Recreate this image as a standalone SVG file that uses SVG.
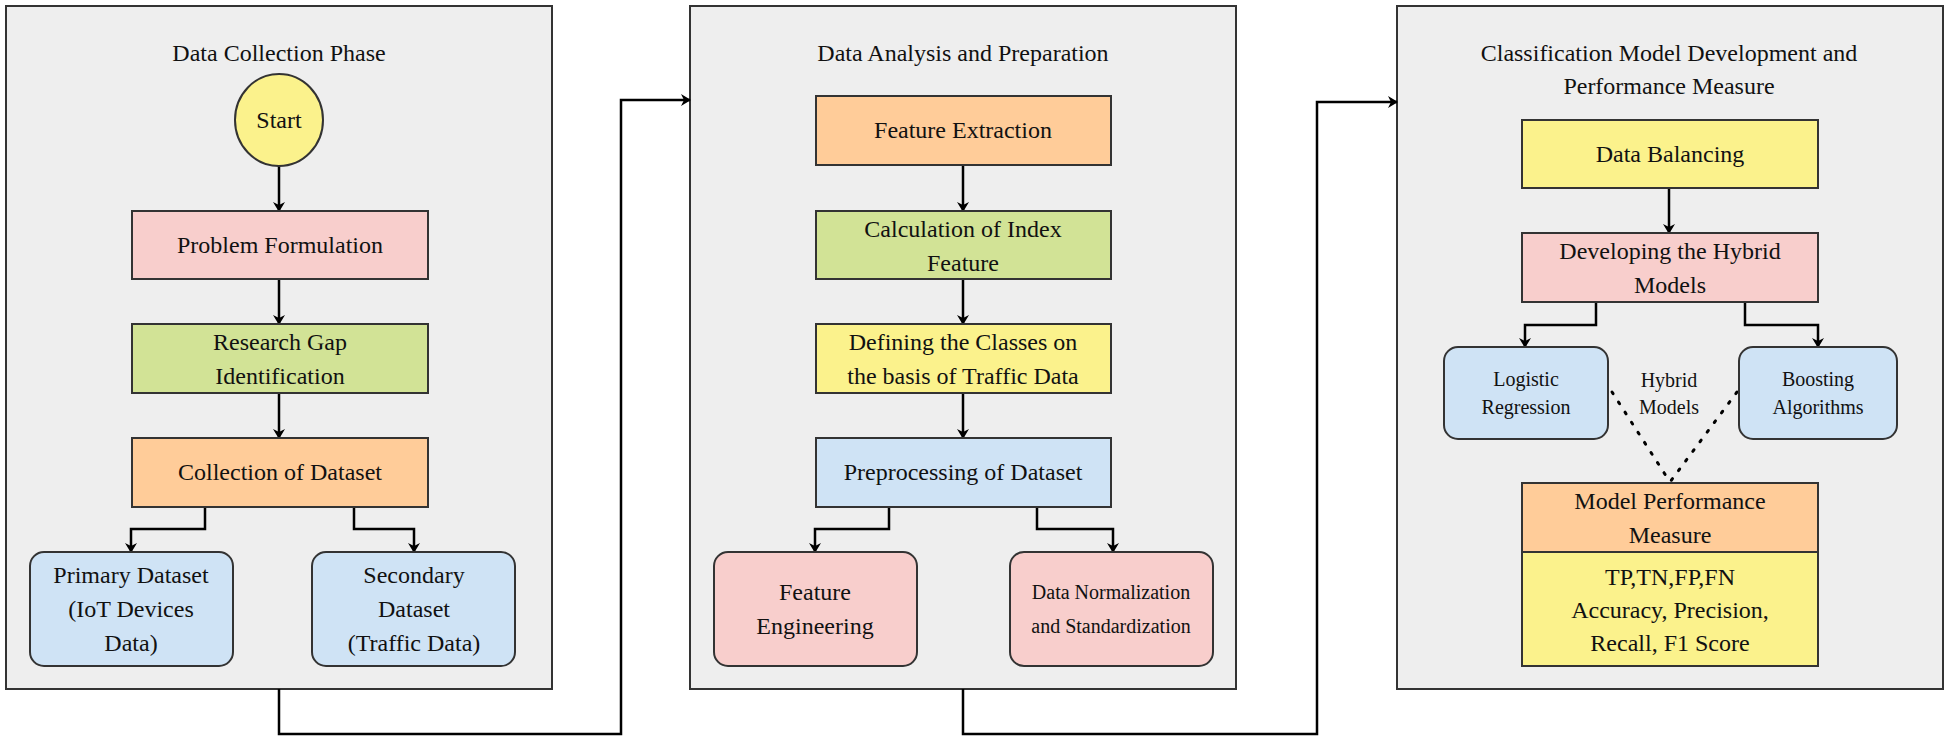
<svg xmlns="http://www.w3.org/2000/svg" width="1950" height="741" viewBox="0 0 1950 741">
<defs>
<marker id="ah" markerWidth="10" markerHeight="12" refX="9" refY="6" orient="auto" markerUnits="userSpaceOnUse" viewBox="0 0 10 12">
<path d="M0,0 L10,6 L0,12 L3,6 Z" fill="#000"/>
</marker>
<style>
text{font-family:"Liberation Serif","Times New Roman",serif;fill:#111;text-anchor:middle;dominant-baseline:central}
.panel{fill:#eeeeee;stroke:#333;stroke-width:2}
.b{stroke:#333;stroke-width:2}
.pink{fill:#f8cecc}.green{fill:#d2e396}.orange{fill:#ffcc99}.yellow{fill:#fbf28c}.blue{fill:#cfe3f5}
.t{font-size:24px}.s{font-size:20px}
.c{fill:none;stroke:#000;stroke-width:2.5;marker-end:url(#ah)}
.cn{fill:none;stroke:#000;stroke-width:2.5}
.dot{fill:none;stroke:#000;stroke-width:3;stroke-dasharray:2 10;stroke-linecap:round}
</style>
</defs>
<g id="panel1"><rect class="panel" x="6" y="6" width="546" height="683"/><text class="t" x="279" y="53">Data Collection Phase</text></g>
<g id="panel2"><rect class="panel" x="690" y="6" width="546" height="683"/><text class="t" x="963" y="53">Data Analysis and Preparation</text></g>
<g id="panel3"><rect class="panel" x="1397" y="6" width="546" height="683"/><text class="t" x="1669" y="53">Classification Model Development and</text><text class="t" x="1669" y="86">Performance Measure</text></g>

<g id="connectors">
<path class="c" d="M279,165 V211"/>
<path class="c" d="M279,279 V324"/>
<path class="c" d="M279,393 V438"/>
<path class="c" d="M205,507 V529 H131 V552"/>
<path class="c" d="M354,507 V529 H414 V552"/>
<path class="c" d="M963,165 V211"/>
<path class="c" d="M963,279 V324"/>
<path class="c" d="M963,393 V438"/>
<path class="c" d="M889,507 V529 H815 V552"/>
<path class="c" d="M1037,507 V529 H1113 V552"/>
<path class="c" d="M1669,188 V233"/>
<path class="c" d="M1596,302 V325 H1525 V347"/>
<path class="c" d="M1745,302 V325 H1818 V347"/>
<path class="c" d="M279,689 V734 H621 V100 H690"/>
<path class="c" d="M963,689 V734 H1317 V102 H1397"/>
<path class="dot" d="M1612,392 L1670,482"/>
<path class="dot" d="M1737,392 L1670,482"/>
</g>

<g id="start"><ellipse class="b yellow" cx="279" cy="120" rx="44" ry="46"/><text class="t" x="279" y="120">Start</text></g>
<g id="problem"><rect class="b pink" x="132" y="211" width="296" height="68"/><text class="t" x="280" y="245">Problem Formulation</text></g>
<g id="gap"><rect class="b green" x="132" y="324" width="296" height="69"/><text class="t" x="280" y="342">Research Gap</text><text class="t" x="280" y="376">Identification</text></g>
<g id="collection"><rect class="b orange" x="132" y="438" width="296" height="69"/><text class="t" x="280" y="472">Collection of Dataset</text></g>
<g id="primary"><rect class="b blue" x="30" y="552" width="203" height="114" rx="14"/><text class="t" x="131" y="575">Primary Dataset</text><text class="t" x="131" y="609">(IoT Devices</text><text class="t" x="131" y="643">Data)</text></g>
<g id="secondary"><rect class="b blue" x="312" y="552" width="203" height="114" rx="14"/><text class="t" x="414" y="575">Secondary</text><text class="t" x="414" y="609">Dataset</text><text class="t" x="414" y="643">(Traffic Data)</text></g>

<g id="featext"><rect class="b orange" x="816" y="96" width="295" height="69"/><text class="t" x="963" y="130">Feature Extraction</text></g>
<g id="calc"><rect class="b green" x="816" y="211" width="295" height="68"/><text class="t" x="963" y="229">Calculation of Index</text><text class="t" x="963" y="263">Feature</text></g>
<g id="defining"><rect class="b yellow" x="816" y="324" width="295" height="69"/><text class="t" x="963" y="342">Defining the Classes on</text><text class="t" x="963" y="376">the basis of Traffic Data</text></g>
<g id="preproc"><rect class="b blue" x="816" y="438" width="295" height="69"/><text class="t" x="963" y="472">Preprocessing of Dataset</text></g>
<g id="feateng"><rect class="b pink" x="714" y="552" width="203" height="114" rx="14"/><text class="t" x="815" y="592">Feature</text><text class="t" x="815" y="626">Engineering</text></g>
<g id="norm"><rect class="b pink" x="1010" y="552" width="203" height="114" rx="14"/><text class="s" x="1111" y="592">Data Normalization</text><text class="s" x="1111" y="626">and Standardization</text></g>

<g id="balancing"><rect class="b yellow" x="1522" y="120" width="296" height="68"/><text class="t" x="1670" y="154">Data Balancing</text></g>
<g id="hybrid"><rect class="b pink" x="1522" y="233" width="296" height="69"/><text class="t" x="1670" y="251">Developing the Hybrid</text><text class="t" x="1670" y="285">Models</text></g>
<g id="logistic"><rect class="b blue" x="1444" y="347" width="164" height="92" rx="14"/><text class="s" x="1526" y="379">Logistic</text><text class="s" x="1526" y="407">Regression</text></g>
<g id="boosting"><rect class="b blue" x="1739" y="347" width="158" height="92" rx="14"/><text class="s" x="1818" y="379">Boosting</text><text class="s" x="1818" y="407">Algorithms</text></g>
<g id="hybridlabel"><text class="s" x="1669" y="380">Hybrid</text><text class="s" x="1669" y="407">Models</text></g>
<g id="mpm"><rect class="b orange" x="1522" y="483" width="296" height="69"/><text class="t" x="1670" y="501">Model Performance</text><text class="t" x="1670" y="535">Measure</text></g>
<g id="metrics"><rect class="b yellow" x="1522" y="552" width="296" height="114"/><text class="t" x="1670" y="577">TP,TN,FP,FN</text><text class="t" x="1670" y="610">Accuracy, Precision,</text><text class="t" x="1670" y="643">Recall, F1 Score</text></g>
</svg>
